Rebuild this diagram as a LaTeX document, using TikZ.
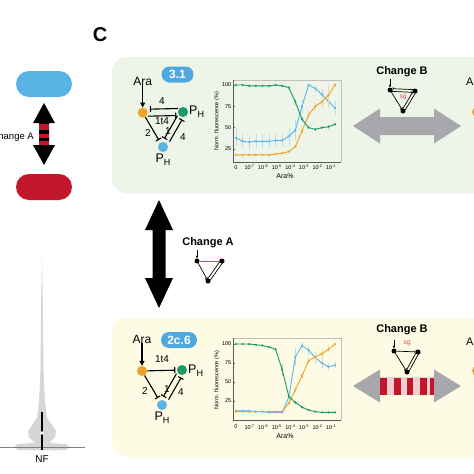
\documentclass[tikz,border=0pt]{standalone}
\usepackage{fontspec}
\setmainfont{Liberation Sans}
\usetikzlibrary{arrows.meta,calc}
\definecolor{panelG}{RGB}{238,244,231}
\definecolor{panelY}{RGB}{253,251,228}
\definecolor{cBlue}{RGB}{90,180,229}
\definecolor{cRed}{RGB}{192,23,43}
\definecolor{cOrange}{RGB}{236,163,42}
\definecolor{cGreen}{RGB}{26,154,106}
\definecolor{badge}{RGB}{79,169,223}
\definecolor{arrGray}{RGB}{166,168,172}
\definecolor{sgRed}{RGB}{222,80,80}
\definecolor{stripeGap}{RGB}{240,205,208}
\definecolor{violin}{RGB}{214,214,214}
\newcommand{\PH}{P\raisebox{-3pt}{\fontsize{9}{9}\selectfont H}}
\newcommand{\drawcurve}[5]{%
 \foreach \v/\e [count=\i from 0] in {#5}{%
   \draw[#4!45, line width=0.4pt] ({236+\i*6.6},{#2+(100-\v-\e)*#3}) -- ({236+\i*6.6},{#2+(100-\v+\e)*#3});
   \coordinate (#1\i) at ({236+\i*6.6},{#2+(100-\v)*#3});
 }%
 \draw[#4, line width=0.9pt] (#10) \foreach \i in {1,...,15}{ -- (#1\i)};
 \foreach \i in {0,...,15}{\fill[#4] (#1\i) circle (1.2pt);}
}
\tikzset{
  netnode/.style={circle, minimum size=10pt, inner sep=0pt},
  dotnode/.style={circle, fill=black, minimum size=5pt, inner sep=0pt},
  inh/.style={-{Bar[width=6pt,line width=1.1pt]}, line width=1.1pt, black},
  sinh/.style={-{Bar[width=3pt,line width=0.7pt]}, line width=0.7pt, black},
  act/.style={-{Triangle[length=5pt,width=5pt]}, line width=1.1pt},
  sact/.style={-{Triangle[length=2.5pt,width=2.5pt]}, line width=0.6pt},
  lbl/.style={font=\fontsize{10}{10}\selectfont, inner sep=0pt},
  ticklbl/.style={font=\fontsize{5.5}{6}\selectfont, inner sep=0pt},
  badgebox/.style={fill=badge, text=white, rounded corners=8pt, minimum height=16pt, inner sep=1pt, font=\bfseries\fontsize{12}{12}\selectfont},
  pill/.style={rounded corners=13pt, minimum width=56pt, minimum height=26pt},
  bold11/.style={font=\bfseries\fontsize{11}{11}\selectfont, inner sep=0pt},
}
\begin{document}
\begin{tikzpicture}[x=1pt,y=-1pt]
\useasboundingbox (0,0) rectangle (474,474);
\fill[white] (0,0) rectangle (474,474);

% ---------- left strip ----------
\node[pill, fill=cBlue] (pillB) at (44,84) {};
\node[pill, fill=cRed] (pillR) at (44,187) {};
\fill[black] (44,103) -- (55,123) -- (49,123) -- (49,145) -- (55,145) -- (44,165) -- (33,145) -- (39,145) -- (39,123) -- (33,123) -- cycle;
\fill[cRed] (39,124) rectangle (49,129.5);
\fill[cRed] (39,133.5) rectangle (49,137.5);
\fill[cRed] (39,141) rectangle (49,145);
\node[anchor=east, font=\fontsize{9.5}{10}\selectfont, inner sep=0pt] (chAleft) at (34,137) {Change A};

% violin
\fill[violin] (42,258) -- (42.8,300) -- (43.5,370) -- (45,402) -- (47,418) -- (52,425) -- (56,431) -- (55,437) -- (49,443) -- (66,444) -- (70,447) -- (66,450) -- (18,450) -- (14,447) -- (18,444) -- (35,443) -- (29,437) -- (28,431) -- (32,425) -- (37,418) -- (39,402) -- (40.5,370) -- (41.2,300) -- cycle;
\draw[gray, line width=1pt] (0,447) -- (85,447);
\draw[black, line width=2pt] (42,412) -- (42,450);
\fill[white] (42,433) circle (1.8pt);
\node[font=\fontsize{10}{10}\selectfont, inner sep=0pt] (nf) at (42,459) {NF};

% ---------- C label ----------
\node[font=\bfseries\fontsize{20}{20}\selectfont, inner sep=0pt] (lblC) at (100,35) {C};

% ---------- panels ----------
\fill[panelG, rounded corners=15pt] (112,57) rectangle (520,193);
\fill[panelY, rounded corners=15pt] (112,318) rectangle (520,457);

% ---------- top network ----------
\node[badgebox, minimum width=32pt] (b31) at (177.5,74.5) {3.1};
\node[netnode, fill=cOrange] (tO) at (142.7,112.7) {};
\node[netnode, fill=cGreen] (tG) at (183,112) {};
\node[netnode, fill=cBlue] (tB) at (163,147) {};
\node[font=\fontsize{12}{12}\selectfont, inner sep=0pt] (tAra) at (142.7,81) {Ara};
\draw[act] (tAra) -- (tO);
\node[anchor=west, font=\fontsize{12.5}{12.5}\selectfont, inner sep=0pt] (tPG) at (189,112) {\PH};
\node[font=\fontsize{12.5}{12.5}\selectfont, inner sep=0pt] (tPB) at (163,160) {\PH};
\draw[inh, shorten >=2pt] ([yshift=3.5pt]tG.west) -- ([yshift=3.5pt]tO.east);
\draw[inh, shorten >=1.5pt] ([yshift=-3.5pt]tO.east) -- ([yshift=-3.5pt]tG.west);
\draw[inh, shorten >=3pt] (tO) -- (tB);
\draw[inh, shorten <=6pt, shorten >=8pt] ([shift={(-2.6,-1.5)}]tG.center) -- ([shift={(-2.6,-1.5)}]tB.center);
\draw[inh, shorten <=8pt, shorten >=7pt] ([shift={(2.6,1.5)}]tB.center) -- ([shift={(2.6,1.5)}]tG.center);
\node[lbl] (tl4a) at (162,101.5) {4};
\node[lbl] (tl1t4) at (162,121) {1t4};
\node[lbl] (tl2) at (148,133) {2};
\node[lbl] (tl1) at (168,131) {1};
\node[lbl] (tl4b) at (183,137) {4};

% ---------- top plot ----------
\draw[gray!50, line width=0.4pt] (233,80) -- (341,80) -- (341,162);
\draw[gray!70!black, line width=0.5pt] (233,80) -- (233,162) -- (341,162);
\foreach \v in {100,75,50,25}{
  \draw[gray!70!black, line width=0.4pt] (233,{85+(100-\v)*0.853}) -- (235,{85+(100-\v)*0.853});
  \node[ticklbl, anchor=east] at (231.5,{85+(100-\v)*0.853}) {\v};
}
\node[ticklbl] (tx0) at (236,167.5) {0};
\foreach \k/\e in {1/7,2/6,3/5,4/4,5/3,6/2,7/1}{
  \node[ticklbl] at ({236+\k*13.6},167.5) {10\textsuperscript{-\e}};
}
\node[font=\fontsize{7}{7}\selectfont, inner sep=0pt] (tAraPct) at (285,176) {Ara\%};
\node[rotate=90, font=\fontsize{5.5}{6}\selectfont, inner sep=0pt] (tYlab) at (217,121) {Norm. fluorescence (\%)};
\drawcurve{tb}{85}{0.853}{cBlue}{38/10,34/8,33/8,34/8,34/9,34/8,35/8,35/7,40/10,47/12,75/8,100/2,96/4,89/6,81/8,73/8}
\drawcurve{to}{85}{0.853}{cOrange}{18/1,18/1,18/1,18/1,18/1,18/1,19/1,20/1,22/2,28/3,46/4,65/5,75/5,80/7,88/12,100/2}
\drawcurve{tg}{85}{0.853}{cGreen}{100/1,100/1,99/1,99/1,99/1,99/1,100/1,99/1,97/2,80/4,60/3,50/2,48/2,50/2,51/2,54/2}

% ---------- top Change B ----------
\node[bold11] (chBt) at (402,72) {Change B};
\node[dotnode] (bL) at (390,90) {};
\node[dotnode] (bR) at (415,91) {};
\node[dotnode] (bB) at (403,111) {};
\coordinate (bIn) at (390,79);
\draw[sact] (bIn) -- (bL);
\draw[sinh] ([yshift=1.3pt]bR.center) -- ([yshift=1.3pt]bL.east);
\draw[sinh] ([yshift=-1.3pt]bL.center) -- ([yshift=-1.3pt]bR.west);
\draw[sinh] (bL) -- (bB);
\draw[sinh, shorten <=2pt] ([shift={(-1.2,-0.7)}]bR.center) -- ([shift={(-1.2,-0.7)}]bB.center);
\draw[sinh, shorten <=2pt] ([shift={(1.2,0.7)}]bB.center) -- ([shift={(1.2,0.7)}]bR.center);
\node[text=sgRed, font=\fontsize{6.5}{6.5}\selectfont, inner sep=0pt] (sgT) at (403,97) {sg};
\fill[arrGray] (353,126) -- (380,108.5) -- (380,117) -- (434,117) -- (434,108.5) -- (461,126) -- (434,143.5) -- (434,135) -- (380,135) -- (380,143.5) -- cycle;
\node[font=\fontsize{11}{11}\selectfont, inner sep=0pt, anchor=west] (tAraR) at (466,82) {Ara};
\node[netnode, fill=cOrange] (tOR) at (477,112) {};

% ---------- middle Change A ----------
\fill[black] (159,200) -- (173,230) -- (165.5,230) -- (165.5,278) -- (173,278) -- (159,308) -- (145,278) -- (152.5,278) -- (152.5,230) -- (145,230) -- cycle;
\node[bold11] (chAm) at (208,243) {Change A};
\node[dotnode] (aL) at (197,261) {};
\node[dotnode] (aR) at (222,261) {};
\node[dotnode] (aB) at (208,281) {};
\coordinate (aIn) at (197,250);
\draw[sact] (aIn) -- (aL);
\draw[sinh, draw=sgRed, -{Bar[width=3pt,line width=0.7pt,color=sgRed]}] (aL) -- (aR);
\draw[sinh] (aL) -- (aB);
\draw[sinh, shorten <=2pt] ([shift={(-1.2,-0.8)}]aR.center) -- ([shift={(-1.2,-0.8)}]aB.center);
\draw[sinh, shorten <=2pt] ([shift={(1.2,0.8)}]aB.center) -- ([shift={(1.2,0.8)}]aR.center);

% ---------- bottom network ----------
\node[badgebox, minimum width=36pt] (b2c6) at (179,340) {2c.6};
\node[netnode, fill=cOrange] (bO) at (142,371) {};
\node[netnode, fill=cGreen] (bG) at (182,370) {};
\node[netnode, fill=cBlue] (bBl) at (162,405) {};
\node[font=\fontsize{12}{12}\selectfont, inner sep=0pt] (bAra) at (142,339) {Ara};
\draw[act] (bAra) -- (bO);
\node[anchor=west, font=\fontsize{12.5}{12.5}\selectfont, inner sep=0pt] (bPG) at (188,371) {\PH};
\node[font=\fontsize{12.5}{12.5}\selectfont, inner sep=0pt] (bPB) at (162,418) {\PH};
\draw[inh, shorten >=1.5pt] (bO) -- (bG);
\draw[inh, shorten >=3pt] (bO) -- (bBl);
\draw[inh, shorten <=6pt, shorten >=8pt] ([shift={(-2.6,-1.5)}]bG.center) -- ([shift={(-2.6,-1.5)}]bBl.center);
\draw[inh, shorten <=8pt, shorten >=7pt] ([shift={(2.6,1.5)}]bBl.center) -- ([shift={(2.6,1.5)}]bG.center);
\node[lbl] (bl1t4) at (162,359) {1t4};
\node[lbl] (bl2) at (145,391) {2};
\node[lbl] (bl1) at (167,389) {1};
\node[lbl] (bl4) at (181,392) {4};

% ---------- bottom plot ----------
\draw[gray!50, line width=0.4pt] (233,338) -- (341,338) -- (341,420);
\draw[gray!70!black, line width=0.5pt] (233,338) -- (233,420) -- (341,420);
\foreach \v in {100,75,50,25}{
  \draw[gray!70!black, line width=0.4pt] (233,{344+(100-\v)*0.76}) -- (235,{344+(100-\v)*0.76});
  \node[ticklbl, anchor=east] at (231.5,{344+(100-\v)*0.76}) {\v};
}
\node[ticklbl] (bx0) at (236,427) {0};
\foreach \k/\e in {1/7,2/6,3/5,4/4,5/3,6/2,7/1}{
  \node[ticklbl] at ({236+\k*13.6},427) {10\textsuperscript{-\e}};
}
\node[font=\fontsize{7}{7}\selectfont, inner sep=0pt] (bAraPct) at (285,436) {Ara\%};
\node[rotate=90, font=\fontsize{5.5}{6}\selectfont, inner sep=0pt] (bYlab) at (217,380) {Norm. fluorescence (\%)};
\drawcurve{bb}{344}{0.76}{cBlue}{12/2,12/2,12/1,11/1,11/1,10/1,10/1,10/1,30/8,83/12,98/4,92/6,82/8,75/6,70/5,72/4}
\drawcurve{bo}{344}{0.76}{cOrange}{11/1,11/1,11/1,11/1,11/1,11/1,11/1,11/1,22/2,40/3,58/4,78/4,83/4,87/6,93/4,100/1}
\drawcurve{bg}{344}{0.76}{cGreen}{100/1,100/1,100/1,99/1,98/1,96/1,93/2,66/8,31/4,23/2,17/2,13/1,11/1,10/1,10/1,10/1}

% ---------- bottom Change B ----------
\node[bold11] (chBb) at (402,330) {Change B};
\node[dotnode] (cL) at (394,351) {};
\node[dotnode] (cR) at (418,352) {};
\node[dotnode] (cB) at (407,372) {};
\coordinate (cIn) at (394,340);
\draw[sact] (cIn) -- (cL);
\draw[sinh] (cL) -- (cR);
\draw[sinh] (cL) -- (cB);
\draw[sinh, shorten <=2pt] ([shift={(-1.2,-0.7)}]cR.center) -- ([shift={(-1.2,-0.7)}]cB.center);
\draw[sinh, shorten <=2pt] ([shift={(1.2,0.7)}]cB.center) -- ([shift={(1.2,0.7)}]cR.center);
\node[text=sgRed, font=\fontsize{7}{7}\selectfont, inner sep=0pt] (sgB) at (407,343) {sg};
\fill[arrGray] (353,386) -- (380,369.5) -- (380,377.5) -- (434,377.5) -- (434,369.5) -- (461,386) -- (434,402.5) -- (434,394.5) -- (380,394.5) -- (380,402.5) -- cycle;
\fill[stripeGap] (380,377.5) rectangle (434,394.5);
\foreach \a/\b in {380/387.3,394/400.7,406.7/413.3,420/426.7,430/434}{
  \fill[cRed] (\a,377.5) rectangle (\b,394.5);
}
\node[font=\fontsize{11}{11}\selectfont, inner sep=0pt, anchor=west] (bAraR) at (466,342) {Ara};
\node[netnode, fill=cOrange] (bOR) at (477,371) {};
\end{tikzpicture}
\end{document}
